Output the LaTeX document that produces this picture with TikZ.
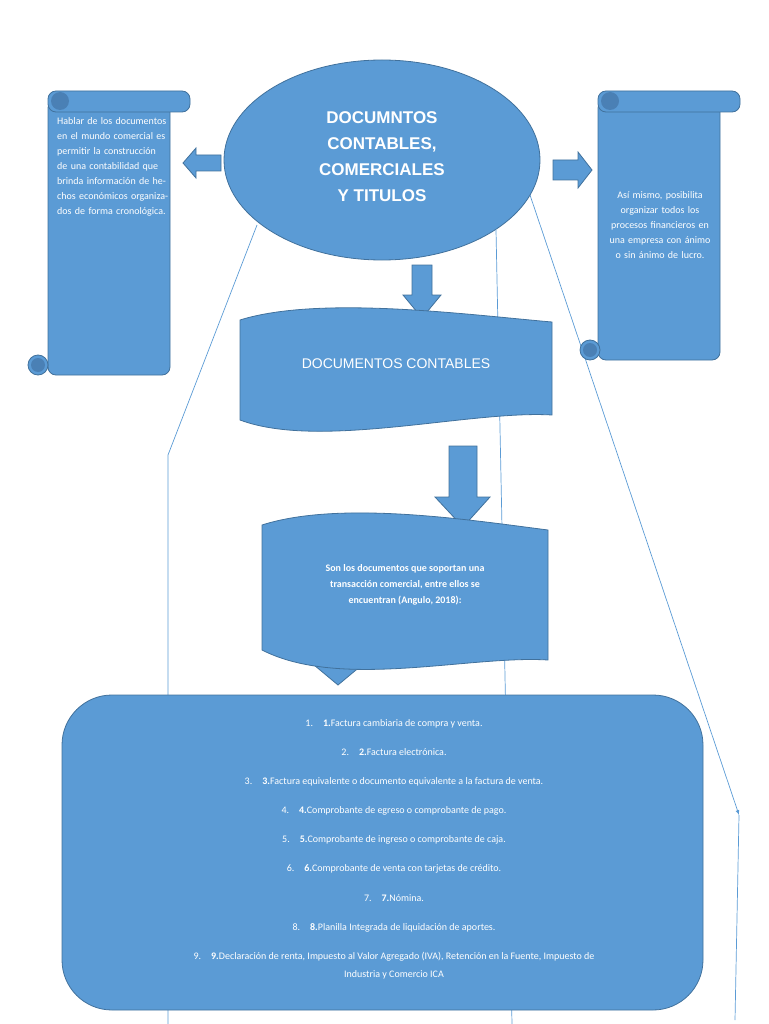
\documentclass[tikz,border=0pt]{standalone}
\usepackage{fontspec}
\usetikzlibrary{shapes.geometric}
\setmainfont{Carlito}
\newfontfamily\hv{Liberation Sans}
\begin{document}
\begin{tikzpicture}[x=1pt,y=-1pt,
  shp/.style={fill=blue0,draw=edge,line width=0.8pt},
  ln/.style={draw=lineblue,line width=0.7pt},
  txt/.style={text=white,font=\fontsize{10}{15}\selectfont}]
\definecolor{blue0}{HTML}{5B9BD5}
\definecolor{edge}{HTML}{41719C}
\definecolor{dark}{HTML}{4A80B5}
\definecolor{lineblue}{HTML}{5B9BD5}
\useasboundingbox (0,0) rectangle (768,1024);
% connector lines
\coordinate (l1) at (257,225); \coordinate (l2) at (168,455); \coordinate (l3) at (168,1024);
\coordinate (m1) at (496,230); \coordinate (m2) at (512,1024);
\coordinate (r1) at (530,195); \coordinate (r2) at (739,815); \coordinate (r3) at (735,1020);
\draw[ln] (l1) -- (l2) -- (l3);
\draw[ln] (m1) -- (m2);
\draw[ln,-latex] (r1) -- (r2);
\draw[ln] (r2) -- (r3);
% ellipse
\node[shp,ellipse,minimum width=316pt,minimum height=200pt,inner sep=0pt] (title) at (382,160) {};
\node[text=white,font=\hv\bfseries\fontsize{17}{26}\selectfont,align=center] (tt) at (382,157) {DOCUMNTOS\\CONTABLES,\\COMERCIALES\\Y TITULOS};
% left scroll
\draw[shp,rounded corners=8pt] (48,100) rectangle (170,375);
\draw[shp,rounded corners=8pt] (48,91) rectangle (190,112);
\fill[dark] (60,101) circle (9);
\draw[shp] (38,365) circle (10);
\fill[dark] (38,365) circle (7);
\node[txt,align=left,anchor=north west,text width=115pt,inner sep=0pt] (ltxt) at (57,117) {Hablar de los documentos en el mundo comercial es permitir la construcción de una contabilidad que brinda información de hechos económicos organizados de forma cronológica.};
% right scroll
\draw[shp,rounded corners=8pt] (598,100) rectangle (720,360);
\draw[shp,rounded corners=8pt] (598,91) rectangle (740,112);
\fill[dark] (610,101) circle (9);
\draw[shp] (590,350) circle (10);
\fill[dark] (590,350) circle (7);
\node[txt,align=center,text width=105pt,inner sep=0pt] (rtxt) at (660,225) {Así mismo, posibilita organizar todos los procesos financieros en una empresa con ánimo o sin ánimo de lucro.};
% side arrows
\draw[shp] (221,155) -- (196,155) -- (196,148) -- (183,163) -- (196,178) -- (196,171) -- (221,171) -- cycle;
\draw[shp] (553,160) -- (578,160) -- (578,152) -- (592,170) -- (578,188) -- (578,180) -- (553,180) -- cycle;
% down arrows
\draw[shp] (412,265) -- (432,265) -- (432,295) -- (441,295) -- (422,318) -- (403,295) -- (412,295) -- cycle;
\draw[shp] (449,446) -- (477,446) -- (477,497) -- (490,497) -- (463,527) -- (435,497) -- (449,497) -- cycle;
\draw[shp] (326,649) -- (350,649) -- (350,665) -- (362,665) -- (338,685) -- (314,665) -- (326,665) -- cycle;
% wave 1
\draw[shp] (240,320) .. controls (320,295) and (470,315) .. (552,322) -- (552,415) .. controls (470,410) and (320,450) .. (240,420) -- cycle;
\node[text=white,font=\hv\fontsize{14}{17}\selectfont] (w1) at (396,364) {DOCUMENTOS CONTABLES};
% wave 2
\draw[shp] (262,525) .. controls (340,500) and (470,520) .. (548,530) -- (548,660) .. controls (470,655) and (340,690) .. (262,650) -- cycle;
\node[txt,font=\bfseries\fontsize{10}{16}\selectfont,align=center] (w2) at (405,585) {Son los documentos que soportan una\\transacción comercial, entre ellos se\\encuentran (Angulo, 2018):};
% big box
\draw[shp,rounded corners=50pt] (62,695) rectangle (703,1010);
\begin{scope}[every node/.style={txt,font=\fontsize{10}{12}\selectfont}]
\node (i1) at (394,724) {1.\quad\textbf{1.}Factura cambiaria de compra y venta.};
\node (i2) at (394,752) {2.\quad\textbf{2.}Factura electrónica.};
\node (i3) at (394,782) {3.\quad\textbf{3.}Factura equivalente o documento equivalente a la factura de venta.};
\node (i4) at (394,811) {4.\quad\textbf{4.}Comprobante de egreso o comprobante de pago.};
\node (i5) at (394,840) {5.\quad\textbf{5.}Comprobante de ingreso o comprobante de caja.};
\node (i6) at (394,869) {6.\quad\textbf{6.}Comprobante de venta con tarjetas de crédito.};
\node (i7) at (394,898) {7.\quad\textbf{7.}Nómina.};
\node (i8) at (394,928) {8.\quad\textbf{8.}Planilla Integrada de liquidación de aportes.};
\node[align=center,font=\fontsize{10}{18}\selectfont] (i9) at (394,966) {9.\quad\textbf{9.}Declaración de renta, Impuesto al Valor Agregado (IVA), Retención en la Fuente, Impuesto de\\Industria y Comercio ICA};
\end{scope}
\end{tikzpicture}
\end{document}
